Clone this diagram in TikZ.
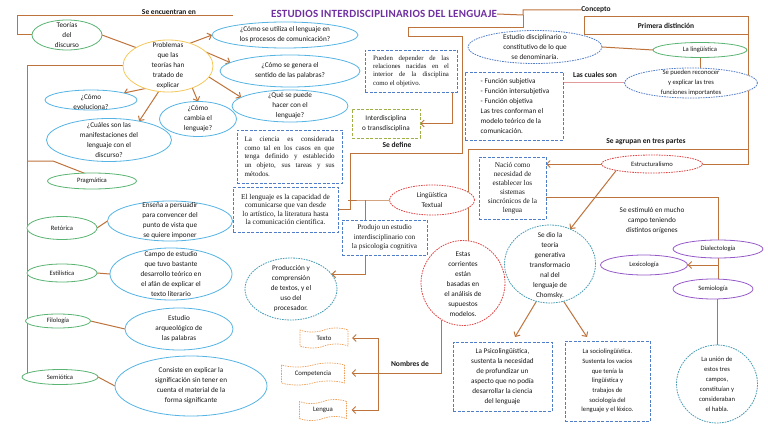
\documentclass[tikz,border=0pt]{standalone}
\usepackage{fontspec}
\setmainfont{Carlito}
\newfontfamily\serifb{Liberation Serif}
\newfontfamily\ttlfont[LetterSpace=2.2]{Carlito}
\usetikzlibrary{shapes.geometric,shapes.symbols,arrows.meta}
\pgfdeclarelayer{bg}
\pgfsetlayers{bg,main}
\definecolor{brn}{RGB}{190,115,60}
\definecolor{grn}{RGB}{90,180,115}
\definecolor{yel}{RGB}{245,200,90}
\definecolor{sky}{RGB}{85,180,228}
\definecolor{dblue}{RGB}{80,125,200}
\definecolor{rdd}{RGB}{225,70,70}
\definecolor{prp}{RGB}{150,90,200}
\definecolor{tea}{RGB}{70,155,180}
\definecolor{org}{RGB}{240,160,90}
\definecolor{olv}{RGB}{160,175,70}
\definecolor{pnk}{RGB}{225,155,155}
\definecolor{ttl}{RGB}{112,48,160}
\definecolor{txc}{RGB}{25,25,25}
\begin{document}
\begin{tikzpicture}[x=1pt,y=-1pt,
  every node/.style={inner sep=0pt,outer sep=0pt},
  tx/.style={align=center,font=\fontsize{7.2}{10}\selectfont,text=txc},
  sm/.style={align=center,font=\fontsize{6.6}{10}\selectfont,text=txc},
  sr/.style={align=center,font=\serifb\fontsize{7.4}{8.6}\selectfont,text=txc},
  lb/.style={font=\bfseries\fontsize{7.5}{9}\selectfont,text=txc},
  shp/.style={ellipse,fill=white,line width=0.8pt},
  gE/.style={shp,draw=grn},
  bE/.style={shp,draw=sky},
  yE/.style={shp,draw=yel},
  pE/.style={shp,draw=prp},
  rE/.style={shp,draw=rdd,dash pattern=on 1.6pt off 1pt},
  tE/.style={shp,draw=tea,dash pattern=on 1.6pt off 1pt},
  dE/.style={shp,draw=dblue,dash pattern=on 1.6pt off 1pt},
  bx/.style={rectangle,fill=white,draw=dblue,line width=0.8pt,dash pattern=on 3pt off 1.5pt},
  tp/.style={tape,fill=white,draw=org,line width=0.7pt,dash pattern=on 1.5pt off 1pt,tape bend height=4pt,font=\fontsize{6.8}{8}\selectfont,text=txc},
  ln/.style={draw=brn,line width=1pt},
  pl/.style={draw=pnk,line width=1pt},
  arr/.style={ln,-{Straight Barb[length=3.5pt,width=7pt]}},
]
\begin{pgfonlayer}{bg}
\fill[white] (0,0) rectangle (768,433);
\end{pgfonlayer}
\useasboundingbox (0,0) rectangle (768,433);

% coordinates
\coordinate (seend) at (233,16);
\coordinate (lv) at (27,373);
\coordinate (pb) at (27,161);
\coordinate (j1) at (523,15);
\coordinate (j2) at (408,28);
\coordinate (j3) at (462,37);
\coordinate (sd) at (350,153);
\coordinate (r0) at (468,149);
\coordinate (pj) at (365,200);
\coordinate (nd) at (546,197);
\coordinate (nb) at (378,373);
\coordinate (pt1) at (515,337);
\coordinate (pt2) at (587,337);

% title and labels
\node[font=\ttlfont\bfseries\fontsize{11}{13}\selectfont,text=ttl] (title) at (384,14) {ESTUDIOS INTERDISCIPLINARIOS DEL LENGUAJE};
\node[lb] (seenc) at (169,12) {Se encuentran en};
\node[lb] (conc) at (596,10) {Concepto};
\node[lb,rectangle,draw=brn,line width=1pt,fill=white,minimum width=164pt,minimum height=18pt] (prim) at (666,26) {Primera distinción};
\node[lb] (lcs) at (595,75) {Las cuales son};
\node[lb] (sdef) at (397,145) {Se define};
\node[lb] (sagr) at (646,142) {Se agrupan en tres partes};
\node[tx] (sest) at (652,221) {Se estimuló en mucho\\campo teniendo\\distintos orígenes};
\node[lb] (nomb) at (410,364) {Nombres de};

% left part
\node[gE,minimum width=70pt,minimum height=30pt] (teo) at (67,35) {};
\node[tx] (teot) at (teo) {Teorías\\del\\discurso};
\node[yE,minimum width=90pt,minimum height=52pt] (prob) at (168,66) {};
\node[tx] (probt) at (prob) {Problemas\\que las\\teorías han\\tratado de\\explicar};
\node[bE,minimum width=92pt,minimum height=20pt] (evol) at (91,100) {};
\node[tx] (evolt) at (91,102) {¿Cómo\\evoluciona?};
\node[bE,minimum width=125pt,minimum height=43pt] (cual) at (109,140) {};
\node[tx] (cualt) at (cual) {¿Cuáles son las\\manifestaciones del\\lenguaje con el\\discurso?};
\node[bE,minimum width=77pt,minimum height=35pt] (camb) at (198,119) {};
\node[tx] (cambt) at (camb) {¿Cómo\\cambia el\\lenguaje?};
\node[bE,minimum width=146pt,minimum height=26pt] (util) at (285,35) {};
\node[tx] (utilt) at (util) {¿Cómo se utiliza el lenguaje en\\los procesos de comunicación?};
\node[bE,minimum width=140pt,minimum height=32pt] (gen) at (290,71) {};
\node[tx] (gent) at (gen) {¿Cómo se genera el\\sentido de las palabras?};
\node[bE,minimum width=116pt,minimum height=32pt] (que) at (290,106) {};
\node[tx] (quet) at (que) {¿Qué se puede\\hacer con el\\lenguaje?};

\node[gE,minimum width=89pt,minimum height=16pt] (prag) at (92,181) {};
\node[sm] (pragt) at (prag) {Pragmática};
\node[gE,minimum width=70pt,minimum height=23pt] (ret) at (62,228) {};
\node[sm] (rett) at (ret) {Retórica};
\node[bE,minimum width=125pt,minimum height=40pt] (ens) at (170,221) {};
\node[tx] (enst) at (ens) {Enseña a persuadir\\para convencer del\\punto de vista que\\se quiere imponer};
\node[gE,minimum width=70pt,minimum height=18pt] (est) at (62,273) {};
\node[sm] (estt) at (est) {Estilística};
\node[bE,minimum width=122pt,minimum height=52pt] (campo) at (171,274) {};
\node[tx] (campot) at (campo) {Campo de estudio\\que tuvo bastante\\desarrollo teórico en\\el afán de explicar el\\texto literario};
\node[gE,minimum width=65pt,minimum height=14pt] (filo) at (58,321) {};
\node[sm] (filot) at (filo) {Filología};
\node[bE,minimum width=108pt,minimum height=42pt] (estu) at (179,329) {};
\node[tx] (estut) at (estu) {Estudio\\arqueológico de\\las palabras};
\node[gE,minimum width=76pt,minimum height=15pt] (semio) at (60,377) {};
\node[sm] (semiot) at (semio) {Semiótica};
\node[bE,minimum width=152pt,minimum height=60pt] (cons) at (191,386) {};
\node[tx] (const) at (cons) {Consiste en explicar la\\significación sin tener en\\cuenta el material de la\\forma significante};

% middle boxes
\node[bx,minimum width=105pt,minimum height=53pt] (cien) at (289.5,156.5) {};
\node[sr,align=left,font=\serifb\fontsize{7}{8.7}\selectfont] (cient) at (cien) {\makebox[90pt][s]{La ciencia es considerada}\\\makebox[90pt][s]{como tal en los casos en que}\\\makebox[90pt][s]{tenga definido y establecido}\\\makebox[90pt][s]{un objeto, sus tareas y sus}\\métodos.};
\node[bx,minimum width=105pt,minimum height=45pt] (elen) at (285.5,209.5) {};
\node[sr] (elent) at (elen) {El lenguaje es la capacidad de\\comunicarse que van desde\\lo artístico, la literatura hasta\\la comunicación científica.};
\node[bx,minimum width=85pt,minimum height=35pt] (prodb) at (384.5,237.5) {};
\node[sr,font=\serifb\fontsize{7.2}{9.5}\selectfont] (prodbt) at (prodb) {Produjo un estudio\\interdisciplinario con\\la psicología cognitiva};
\node[bx,minimum width=92pt,minimum height=42pt] (pued) at (411,71) {};
\node[sr,align=left,font=\serifb\fontsize{6.8}{8.4}\selectfont] (puedt) at (pued) {\makebox[76pt][s]{Pueden depender de las}\\\makebox[76pt][s]{relaciones nacidas en el}\\\makebox[76pt][s]{interior de la disciplina}\\como el objetivo.};
\node[bx,draw=olv,minimum width=68pt,minimum height=29pt] (inter) at (386,123.5) {};
\node[tx] (intert) at (inter) {Interdisciplina\\o transdisciplina};
\node[bx,minimum width=98pt,minimum height=68pt] (func) at (514,106) {};
\node[tx,align=left] (funct) at (515,106) {- Función subjetiva\\- Función intersubjetiva\\- Función objetiva\\Las tres conforman el\\modelo teórico de la\\comunicación.};
\node[dE,minimum width=134pt,minimum height=33pt] (estd) at (535,47) {};
\node[tx] (estdt) at (estd) {Estudio disciplinario o\\constitutivo de lo que\\se denominaría.};
\node[gE,minimum width=94pt,minimum height=15pt] (ling) at (700,50) {};
\node[sm] (lingt) at (ling) {La lingüística};
\node[dE,minimum width=133pt,minimum height=30pt] (sepu) at (691,83) {};
\node[sm] (seput) at (sepu) {Se pueden reconocer\\y explicar las tres\\funciones importantes};

\node[rE,minimum width=85pt,minimum height=30pt] (lt) at (432,200) {};
\node[tx] (ltt) at (lt) {Lingüística\\Textual};
\node[bx,minimum width=67pt,minimum height=62pt] (nac) at (512.5,188) {};
\node[sr,font=\serifb\fontsize{7.3}{9}\selectfont] (nact) at (nac) {Nació como\\necesidad de\\establecer los\\sistemas\\sincrónicos de la\\lengua};
\node[rE,minimum width=101pt,minimum height=18pt] (estr) at (652,164) {};
\node[sm] (estrt) at (estr) {Estructuralismo};
\node[pE,minimum width=90pt,minimum height=18pt] (dial) at (718,249) {};
\node[sm] (dialt) at (dial) {Dialectología};
\node[pE,minimum width=87pt,minimum height=20pt] (lex) at (644,265) {};
\node[sm] (lext) at (lex) {Lexicología};
\node[pE,minimum width=80pt,minimum height=20pt] (semi) at (713,289) {};
\node[sm] (semit) at (semi) {Semiología};
\node[tE,minimum width=81pt,minimum height=78pt] (union) at (717,384) {};
\node[sm] (uniont) at (union) {La unión de\\estos tres\\campos,\\constituían y\\consideraban\\el habla.};
\node[tE,minimum width=91pt,minimum height=78pt] (sedio) at (550,264) {};
\node[tx] (sediot) at (550,266) {Se dio la\\teoría\\generativa\\transformacio\\nal del\\lenguaje de\\Chomsky.};
\node[rE,minimum width=84pt,minimum height=85pt] (estc) at (463,283) {};
\node[tx] (estct) at (463,284) {Estas\\corrientes\\están\\basadas en\\el análisis de\\supuestos\\modelos.};
\node[tE,minimum width=92pt,minimum height=62pt] (produc) at (291,289) {};
\node[tx] (product) at (produc) {Producción y\\comprensión\\de textos, y el\\uso del\\procesador.};
\node[bx,minimum width=99pt,minimum height=69pt] (psico) at (502.5,376.5) {};
\node[tx] (psicot) at (psico) {La Psicolingüística,\\sustenta la necesidad\\de profundizar un\\aspecto que no podía\\desarrollar la ciencia\\del lenguaje};
\node[bx,minimum width=85pt,minimum height=80pt] (socio) at (607.5,381) {};
\node[sm,font=\fontsize{6.6}{9.7}\selectfont] (sociot) at (socio) {La sociolingüística.\\Sustenta los vacíos\\que tenía la\\lingüística y\\trabajos de\\sociología del\\lenguaje y el léxico.};

\node[tp,minimum width=48pt,minimum height=20pt] (texto) at (324,338) {Texto};
\node[tp,minimum width=63pt,minimum height=22pt] (comp) at (313,374) {Competencia};
\node[tp,minimum width=47pt,minimum height=21pt] (lengua) at (323,410) {Lengua};

\begin{pgfonlayer}{bg}
\draw[ln] (teo.west) -- ++(-15,0) |- (seend);
\draw[ln] (teo.east) -- (prob.150);
\draw[ln] (prob.west) -| (lv);
\draw[ln] (pb) -- ++(26,0) -- (prag.135);
\draw[ln] (ret.east) -- (ens.west);
\draw[ln] (est.east) -- (campo.west);
\draw[ln] (filo.east) -- (estu.west);
\draw[ln] (semio.east) -- (cons.west);
\draw[arr] (prob.225) -- (evol.12);
\draw[arr] (prob.250) -- (cual.32);
\draw[arr] (prob.-42) -- (camb.north);
\draw[arr] (prob.46) -- (util.west);
\draw[arr] (prob.20) -- (gen.172);
\draw[arr] (prob.-15) -- (que.170);

\draw[ln] (title.east) -- (j1) |- (conc.west);
\draw[ln] (j1) |- (j2) |- (j3) -- (j3 |- sd) -- (sd) |- (elen.east);
\draw[arr] (pued.south east) ++(-5,0) coordinate (pq) -- (pq |- inter.east) -- (inter.east);
\draw[ln] (estd.east) -- (ling.west);
\draw[ln] (ling.south) -- (ling.south |- sepu.north);
\draw[pl] (sepu.west) -- (sepu.west -| func.east);
\draw[ln] (prim.south east) |- (estr.east);
\draw[ln] (r0) -- (r0 -| prim.east);
\draw[ln] (r0) -- (r0 |- estc.north);
\draw[ln] (lt.west) -- (pj) -- ++(-17,0);
\draw[ln] (pj) -- (pj |- prodb.north);
\draw[arr] (pj |- prodb.south) |- (produc.20);
\draw[arr] (estr.west) -- (estr.west -| nac.east);
\draw[ln] (nd) -| (dial.north);
\draw[arr] (estr.south west) -- (sedio.60);
\draw[arr] (sedio.250) -- (pt1);
\draw[arr] (sedio.290) -- (pt2);
\draw[ln] (dial.south) -- (dial.south |- semi.north);
\draw[arr] (dial.south |- lex.east) -- (lex.east);
\draw[ln] (union.north |- semi.south) -- (union.north);
\draw[ln] (estc.240) |- (nb);
\draw[arr,shorten >=4pt] (nb) |- (texto.east);
\draw[arr,shorten >=7pt] (nb) -- (nb -| comp.east);
\draw[arr,shorten >=5pt] (nb) |- (lengua.east);
\end{pgfonlayer}
\end{tikzpicture}
\end{document}
